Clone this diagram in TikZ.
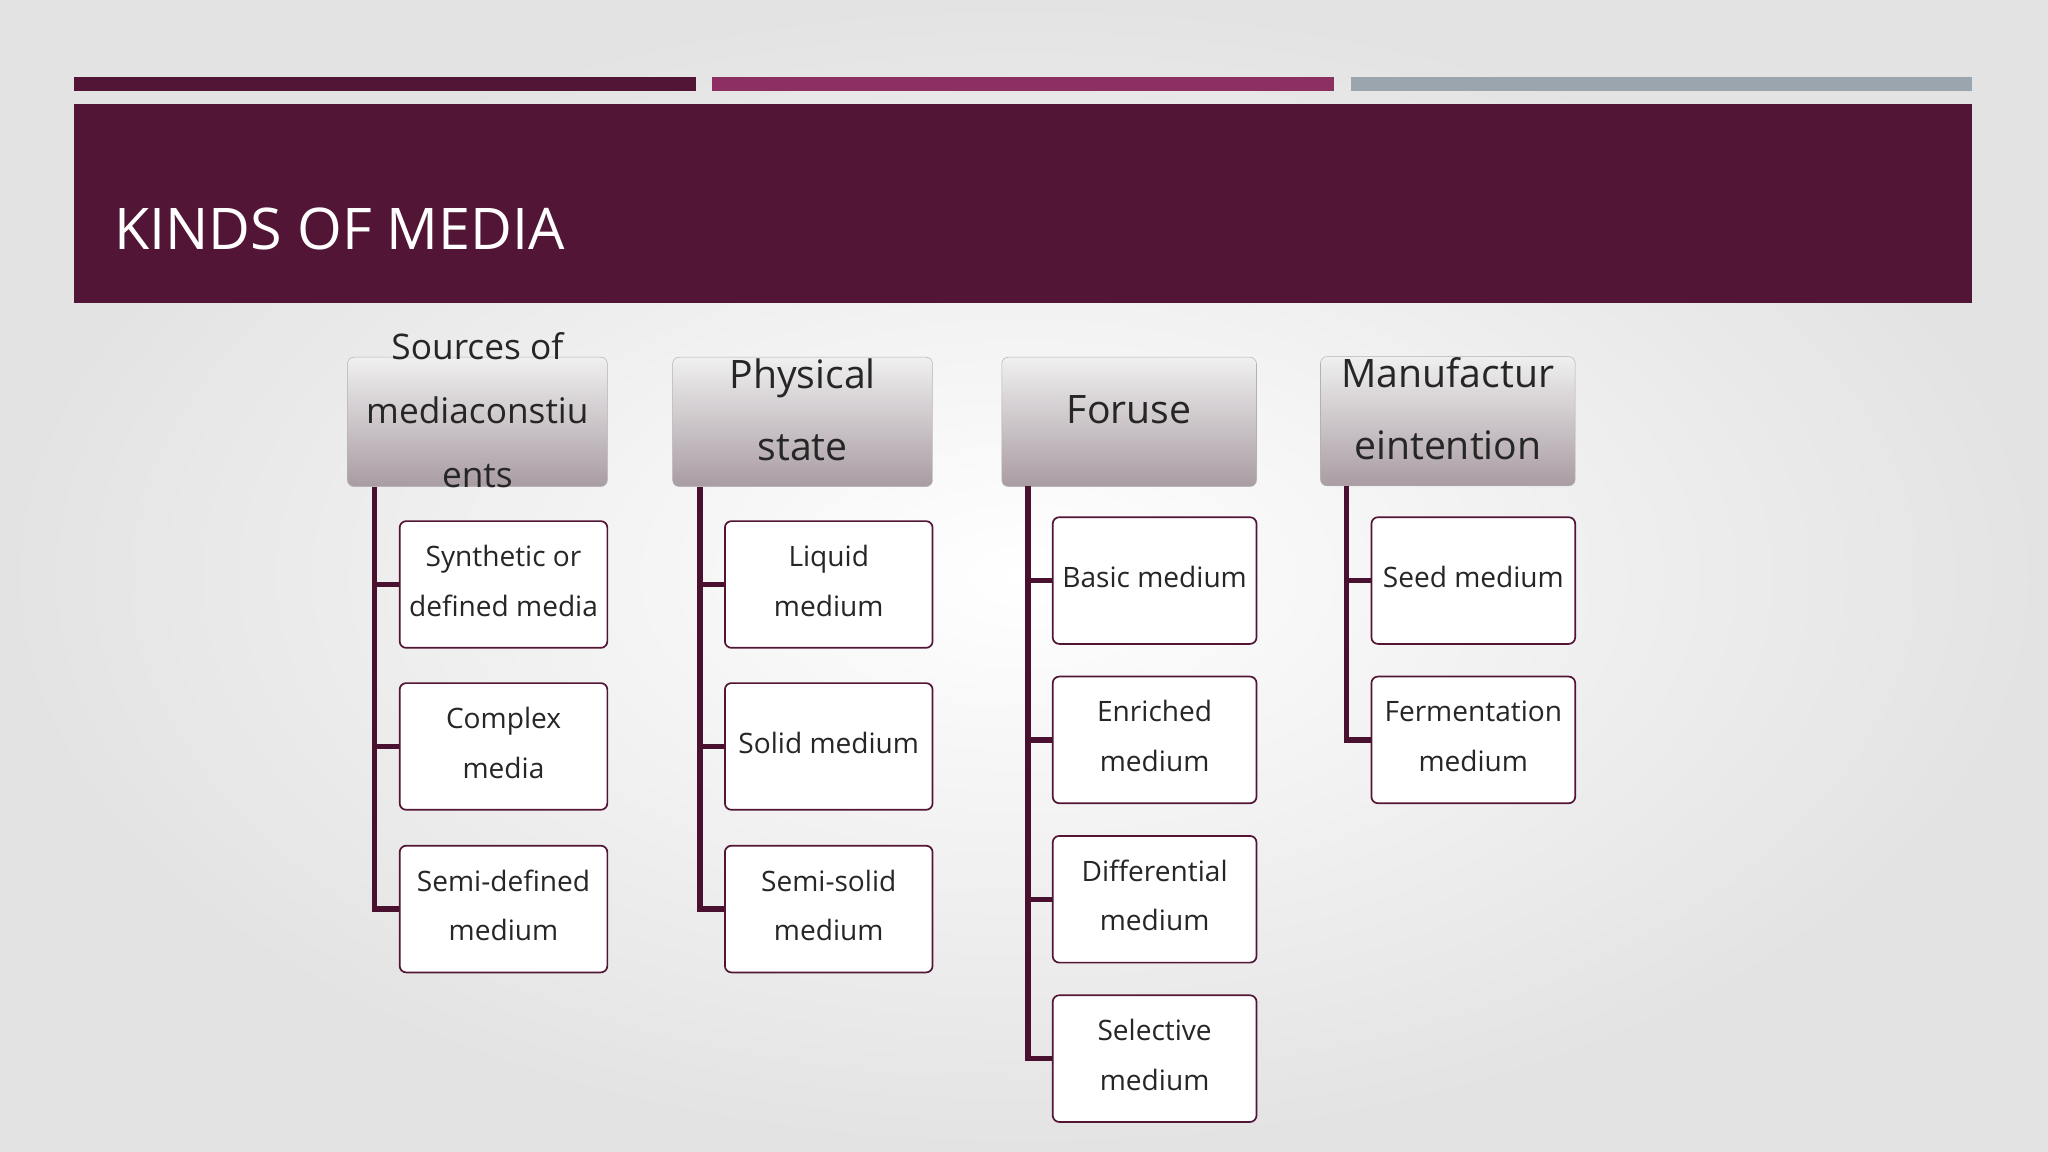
\documentclass[tikz,border=0pt]{standalone}
\usepackage{fontspec}
\setmainfont{Open Sans}
\usetikzlibrary{positioning}
\definecolor{dk}{HTML}{521536}
\definecolor{mg}{HTML}{8E2F63}
\definecolor{gr}{HTML}{9BA5AD}
\definecolor{ln}{HTML}{4A1030}
\definecolor{hb}{HTML}{A99CA3}
\begin{document}
\begin{tikzpicture}[x=1pt,y=-1pt,
 head/.style={draw=gray!60,rounded corners=5pt,top color=white!88!gray,bottom color=hb,minimum width=#1,minimum height=99pt,inner sep=0pt},
 htext/.style={align=center,font=\fontsize{30}{55}\selectfont,text=black!85,inner sep=0pt},
 child/.style={draw=dk,line width=1.3pt,fill=white,rounded corners=5pt,minimum width=#1,minimum height=97pt,inner sep=0pt,align=center,font=\fontsize{21.5}{38}\selectfont,text=black!85,text depth=6pt},
 conn/.style={draw=ln,line width=4pt}]
\useasboundingbox (0,0) rectangle (1568,882);
\shade[inner color=white,outer color=gray!22] (0,0) rectangle (1568,882);
\fill[dk] (57,59) rectangle (533,70);
\fill[mg] (545,59) rectangle (1021,70);
\fill[gr] (1034,59) rectangle (1510,70);
\fill[dk] (57,80) rectangle (1510,232);
\node[anchor=west,text=white,font=\fontsize{44}{50}\selectfont] (title) at (84,175) {KINDS OF MEDIA};
% column 1
\node[head=199pt] (h1) at (365.5,323) {};
\node[htext,font=\fontsize{27}{49}\selectfont] (t1) at (365.5,314) {Sources of\\mediaconstiu\\ents};
\node[child=159pt] (c11) at (385.5,447.5) {Synthetic or\\defined media};
\node[child=159pt] (c12) at (385.5,571.5) {Complex\\media};
\node[child=159pt] (c13) at (385.5,696) {Semi-defined\\medium};
% column 2
\node[head=199pt] (h2) at (614.5,323) {};
\node[htext] (t2) at (614.5,314) {Physical\\state};
\node[child=159pt] (c21) at (634.5,447.5) {Liquid\\medium};
\node[child=159pt] (c22) at (634.5,571.5) {Solid medium};
\node[child=159pt] (c23) at (634.5,696) {Semi-solid\\medium};
% column 3
\node[head=195pt] (h3) at (864.5,323) {};
\node[htext] (t3) at (864.5,314) {Foruse};
\node[child=156pt] (c31) at (884,444.5) {Basic medium};
\node[child=156pt] (c32) at (884,566.5) {Enriched\\medium};
\node[child=156pt] (c33) at (884,688.5) {Differential\\medium};
\node[child=156pt] (c34) at (884,810.5) {Selective\\medium};
% column 4
\node[head=195pt] (h4) at (1108.5,322.5) {};
\node[htext] (t4) at (1108.5,313) {Manufactur\\eintention};
\node[child=156pt] (c41) at (1128,444.5) {Seed medium};
\node[child=156pt] (c42) at (1128,566.5) {Fermentation\\medium};
% connectors
\coordinate (v1) at (287,373);
\draw[conn] (v1) |- (c11.west); \draw[conn] (v1) |- (c12.west); \draw[conn] (v1) |- (c13.west);
\coordinate (v2) at (536,373);
\draw[conn] (v2) |- (c21.west); \draw[conn] (v2) |- (c22.west); \draw[conn] (v2) |- (c23.west);
\coordinate (v3) at (787,372);
\draw[conn] (v3) |- (c31.west); \draw[conn] (v3) |- (c32.west); \draw[conn] (v3) |- (c33.west); \draw[conn] (v3) |- (c34.west);
\coordinate (v4) at (1031,372);
\draw[conn] (v4) |- (c41.west); \draw[conn] (v4) |- (c42.west);
\end{tikzpicture}
\end{document}
